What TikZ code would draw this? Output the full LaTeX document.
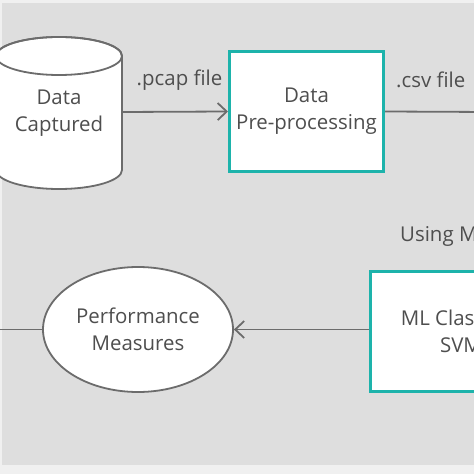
\documentclass[tikz,border=0pt]{standalone}
\usepackage{fontspec}
\setmainfont{Open Sans}
\usetikzlibrary{arrows.meta,shapes.geometric}
\definecolor{bgband}{HTML}{F0F0F0}
\definecolor{bggray}{HTML}{DEDEDE}
\definecolor{teal}{HTML}{1DB3AB}
\definecolor{linegray}{HTML}{6C6C6C}
\definecolor{txtgray}{HTML}{4E4E4E}
\begin{document}
\begin{tikzpicture}[x=1bp,y=-1bp,
  every node/.style={text=txtgray, font=\fontsize{20.5}{27}\selectfont},
  procbox/.style={draw=teal, line width=3bp, fill=white, rectangle, minimum width=154bp, minimum height=120bp, align=center, inner sep=0pt},
  ellbox/.style={draw=linegray, line width=1.8bp, fill=white, ellipse, minimum width=190bp, minimum height=125bp, align=center, inner sep=0pt},
  conn/.style={draw=linegray, line width=1.8bp},
  arr/.style={conn, -{Straight Barb[length=9bp, width=17bp, line width=1.8bp]}},
  lbl/.style={inner sep=0pt}
]
\useasboundingbox (0,0) rectangle (474,474);
\clip (0,0) rectangle (474,474);
% background
\fill[bgband] (0,0) rectangle (474,474);
\fill[bggray] (2,3) rectangle (474,465);

% cylinder (drawn directly)
\filldraw[draw=linegray, line width=1.8bp, fill=white]
  (-4,56) -- (-4,170) arc[start angle=180, end angle=0, x radius=63, y radius=19]
  -- (122,56) arc[start angle=0, end angle=-180, x radius=63, y radius=19] -- cycle;
\draw[linegray, line width=1.8bp] (59,56) ellipse[x radius=63, y radius=19];
\node[align=center, lbl] (cap) at (59,113) {Data\\Captured};
\coordinate (capR) at (122,112);

% nodes
\node[procbox] (pre) at (306.5,111.5) {Data\\Pre-processing};
\node[procbox, minimum width=181bp] (ml) at (461,331) {ML Classifier\\SVM};
\node[ellbox] (perf) at (138,329.5) {Performance\\Measures};
\coordinate (leftend) at (-10,329.5);
\coordinate (rightend) at (490,112);

% connectors
\draw[arr] (capR) -- (pre.west);
\draw[conn] (pre.east) -- (rightend);
\draw[arr] (ml.west |- perf.east) -- (perf.east);
\draw[conn] (perf.west) -- (leftend);

% labels
\node[lbl] (lpcap) at (179.5,80) {.pcap file};
\node[lbl, anchor=west] (lcsv) at (396,80) {.csv file};
\node[lbl, anchor=west] (lusing) at (400,236) {Using ML};
\end{tikzpicture}
\end{document}
